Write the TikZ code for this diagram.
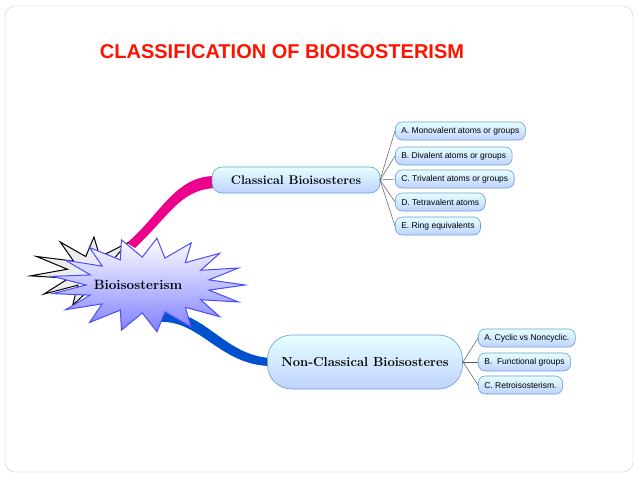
\documentclass[tikz,border=0pt]{standalone}
\usepackage{fontspec}
\newfontfamily\sans{Liberation Sans}
\begin{document}
\begin{tikzpicture}[x=1pt,y=-1pt,
 box/.style={draw=cyan!50!blue!60,line width=0.6pt,rounded corners=8pt,top color=cyan!10,bottom color=cyan!30!blue!25,inner sep=0pt},
 sub/.style={box,rounded corners=7pt,minimum height=18pt,font=\sans\fontsize{8.5}{9}\selectfont,anchor=west,inner xsep=6pt},
 fan/.style={draw=gray!70!black,line width=0.5pt}]
\useasboundingbox (0,0) rectangle (638,479);
\fill[white] (0,0) rectangle (638,479);
\draw[gray!40,rounded corners=10pt] (5,6) rectangle (633,472);
\node[font=\sans\bfseries\fontsize{20}{22}\selectfont,text=red!85!orange] (t) at (282,52) {CLASSIFICATION OF BIOISOSTERISM};
% ribbons
\fill[magenta] (135,248) .. controls (170,215) and (180,190) .. (215,188) -- (215,176) .. controls (175,176) and (160,215) .. (127,243) -- cycle;
\fill[blue!60!cyan!80!black] (160,322) .. controls (200,320) and (220,365) .. (270,366) -- (270,358) .. controls (225,355) and (205,312) .. (166,312) -- cycle;
% starbursts
\begin{scope}[shift={(92,272)}]
\fill[gray!15,draw=black,line width=1pt] plot[samples at={0,...,21}] (\x*360/22+10: {mod(\x,2)==0 ? 62 : 25} and {mod(\x,2)==0 ? 35 : 16}) -- cycle;
\end{scope}
\begin{scope}[shift={(148,285)}]
\shade[top color=white,bottom color=blue!50,draw=blue!70,line width=1pt] plot[samples at={0,...,33}] ({(\x*360/34)}: {mod(\x,2)==0 ? 97 : 62} and {mod(\x,2)==0 ? 47 : 28}) -- cycle;
\end{scope}
\node[font=\bfseries\fontsize{13.5}{15}\selectfont] (b) at (138,285) {Bioisosterism};
% classical
\node[box,rounded corners=10pt,minimum width=168pt,minimum height=26pt,font=\bfseries\fontsize{12.5}{14}\selectfont] (c) at (296,180) {Classical Bioisosteres};
\node[sub] (c1) at (395,131) {A. Monovalent atoms or groups};
\node[sub] (c2) at (395,156) {B. Divalent atoms or groups};
\node[sub] (c3) at (395,179) {C. Trivalent atoms or groups};
\node[sub] (c4) at (395,202) {D. Tetravalent atoms};
\node[sub] (c5) at (395,226) {E. Ring equivalents};
\coordinate (cf) at (380,180);
\foreach \i in {1,...,5}{\draw[fan] (cf) -- (c\i.west);}
% non classical
\node[box,rounded corners=24pt,minimum width=195pt,minimum height=54pt,font=\bfseries\fontsize{13}{15}\selectfont] (n) at (365,362) {Non-Classical Bioisosteres};
\node[sub] (n1) at (478,338) {A. Cyclic vs Noncyclic.};
\node[sub] (n2) at (478,362) {B.\ \ Functional groups};
\node[sub] (n3) at (478,385) {C. Retroisosterism.};
\coordinate (nf) at (463,362);
\foreach \i in {1,2,3}{\draw[fan] (nf) -- (n\i.west);}
\end{tikzpicture}
\end{document}
